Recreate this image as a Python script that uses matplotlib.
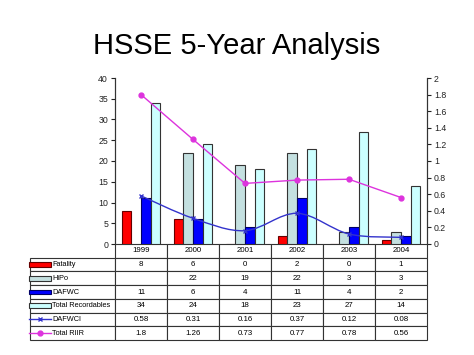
import matplotlib.pyplot as plt
from matplotlib.path import Path
from matplotlib.patches import PathPatch, Rectangle
from matplotlib.lines import Line2D
from matplotlib.table import Table
import numpy as np

plt.rcParams['font.family'] = ['Liberation Sans', 'DejaVu Sans']

years = ["1999", "2000", "2001", "2002", "2003", "2004"]
fatality = [8, 6, 0, 2, 0, 1]
hipo = [None, 22, 19, 22, 3, 3]
dafwc = [11, 6, 4, 11, 4, 2]
total_rec = [34, 24, 18, 23, 27, 14]
dafwci = [0.58, 0.31, 0.16, 0.37, 0.12, 0.08]
total_riir = [1.8, 1.26, 0.73, 0.77, 0.78, 0.56]

bar_series = [
    ("Fatality", fatality, "#ff0000", "#660000"),
    ("HiPo", hipo, "#c4e0e0", "#333333"),
    ("DAFWC", dafwc, "#0000ff", "#000066"),
    ("Total Recordables", total_rec, "#ccffff", "#333333"),
]
line_series = [
    ("DAFWCI", dafwci, "#3333cc", "x", 3),
    ("Total RIIR", total_riir, "#dd33dd", "o", 3.5),
]

fig = plt.figure(figsize=(4.74, 3.55), dpi=100)
ax = fig.add_axes([115 / 474, 1 - 244 / 355, 312 / 474, 166 / 355])
ax2 = ax.twinx()

fig.text(0.5, 1 - 46 / 355, "HSSE 5-Year Analysis", ha="center", va="center", fontsize=21)

x = np.arange(len(years))
w = 0.185
for i, (name, vals, fc, ec) in enumerate(bar_series):
    v = [np.nan if a is None else a for a in vals]
    ax.bar(x + (i - 1.5) * w, v, w, color=fc, edgecolor=ec, linewidth=0.8, zorder=2)

ax.set_xlim(-0.5, len(years) - 0.5)
ax.set_ylim(0, 40)
ax.set_yticks(range(0, 41, 5))
ax.set_xticks([])
ax2.set_ylim(0, 2)
ax2.set_yticks(np.arange(0, 2.01, 0.2))
ax2.set_yticklabels(["0", "0.2", "0.4", "0.6", "0.8", "1", "1.2", "1.4", "1.6", "1.8", "2"])
for a in (ax, ax2):
    a.tick_params(axis="y", labelsize=6.3, length=3, width=0.8, pad=2, colors="#222222")
    a.spines["top"].set_visible(False)
    a.spines["bottom"].set_visible(False)
    a.spines["left"].set_color("#333333")
    a.spines["right"].set_color("#333333")


def smooth_path(xs, ys, t=1 / 6):
    # Excel style smoothing: cubic beziers with catmull-rom control points
    pts = list(zip(xs, ys))
    verts = [pts[0]]
    codes = [Path.MOVETO]
    n = len(pts)
    for i in range(n - 1):
        p0 = pts[i - 1] if i > 0 else pts[i]
        p1, p2 = pts[i], pts[i + 1]
        p3 = pts[i + 2] if i + 2 < n else pts[i + 1]
        c1 = (p1[0] + (p2[0] - p0[0]) * t, p1[1] + (p2[1] - p0[1]) * t)
        c2 = (p2[0] - (p3[0] - p1[0]) * t, p2[1] - (p3[1] - p1[1]) * t)
        verts += [c1, c2, p2]
        codes += [Path.CURVE4] * 3
    return Path(verts, codes)


name, vals, col, mk, ms = line_series[0]
ax2.add_patch(PathPatch(smooth_path(x, vals), facecolor="none", edgecolor=col, lw=1, zorder=3))
ax2.plot(x, vals, ls="none", marker=mk, color=col, ms=ms, mew=1, zorder=4)
name, vals, col, mk, ms = line_series[1]
ax2.plot(x, vals, color=col, marker=mk, ms=ms, lw=1, zorder=4)

# data table under the plot
n_rows = len(bar_series) + len(line_series)
tb = Table(ax, bbox=[-85 / 312, -96 / 166, 397 / 312, 96 / 166])
lab_w = 85 / 52
for j, yr in enumerate(years):
    tb.add_cell(0, j + 1, 1, 1, text=yr, loc="center")
c = tb.add_cell(0, 0, lab_w, 1, text="")
c.visible_edges = ""
labels = [s[0] for s in bar_series] + [s[0] for s in line_series]
data = [s[1] for s in bar_series] + [s[1] for s in line_series]
lab_cells = []
for i, (lab, vals) in enumerate(zip(labels, data)):
    c = tb.add_cell(i + 1, 0, lab_w, 1, text=lab, loc="left")
    c.PAD = 0.26
    lab_cells.append(c)
    for j, v in enumerate(vals):
        tb.add_cell(i + 1, j + 1, 1, 1, text="" if v is None else str(v), loc="center")
tb.auto_set_font_size(False)
tb.set_fontsize(5.7)
for c in lab_cells:
    c.get_text().set_fontsize(5.3)
for cell in tb.get_celld().values():
    cell.set_edgecolor("#333333")
    cell.set_linewidth(0.8)
ax.add_table(tb)

# legend keys inside label column
rh = (96 / 166) / (n_rows + 1)
x0, x1 = -86 / 312, -64 / 312
for i in range(n_rows):
    yc = -rh * (i + 1.5)
    if i < len(bar_series):
        _, _, fc, ec = bar_series[i]
        ax.add_patch(Rectangle((x0, yc - rh * 0.17), x1 - x0, rh * 0.34, transform=ax.transAxes,
                               facecolor=fc, edgecolor=ec, lw=0.8, clip_on=False, zorder=5))
    else:
        _, _, col, mk, ms = line_series[i - len(bar_series)]
        ax.add_line(Line2D([x0, x1], [yc, yc], transform=ax.transAxes, color=col, lw=1,
                           clip_on=False, zorder=5))
        ax.add_line(Line2D([(x0 + x1) / 2], [yc], transform=ax.transAxes, color=col, marker=mk,
                           ms=ms, mew=1, clip_on=False, zorder=5))

fig.savefig("out.png", dpi=100)
